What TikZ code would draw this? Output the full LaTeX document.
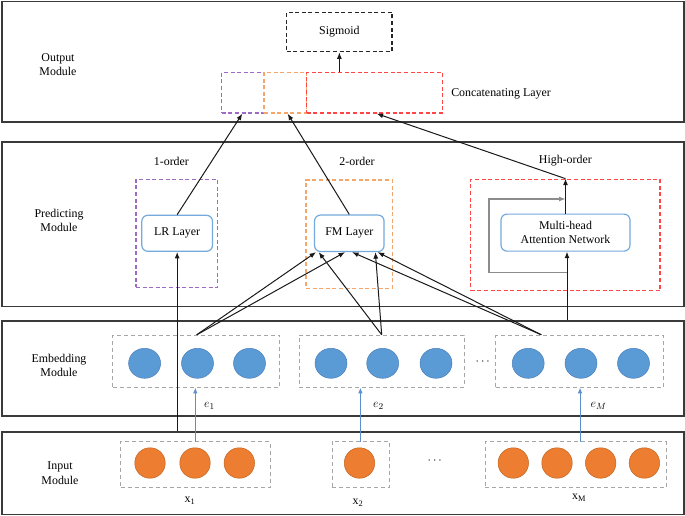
\documentclass[tikz,border=0pt]{standalone}
\usepackage{fontspec}
\setmainfont{Liberation Serif}
\usetikzlibrary{arrows.meta,shapes.geometric,calc}
\definecolor{modline}{HTML}{3A3A3A}
\definecolor{purp}{HTML}{9E6BC4}
\definecolor{orng}{HTML}{F5A66B}
\definecolor{redd}{HTML}{FF4545}
\definecolor{layblue}{HTML}{74AADD}
\definecolor{embfill}{HTML}{5B9BD5}
\definecolor{embline}{HTML}{4A7EBB}
\definecolor{inpfill}{HTML}{ED7D31}
\definecolor{inpline}{HTML}{C0651F}
\definecolor{gboxc}{HTML}{A6A6A6}
\definecolor{earrc}{HTML}{5A8FD0}
\definecolor{loopc}{HTML}{8C8C8C}
\begin{document}
\begin{tikzpicture}[x=1pt,y=-1pt,
  font=\fontsize{11.9}{14.4}\selectfont,
  modbox/.style={draw=modline,line width=1.5pt,minimum width=682pt,inner sep=0pt},
  modlabel/.style={align=center,inner sep=0pt},
  dbox/.style={line width=1.3pt,dash pattern=on 4pt off 2.6pt,inner sep=0pt},
  layer/.style={draw=layblue,line width=1.2pt,rounded corners=6pt,fill=white,align=center,inner sep=0pt},
  arr/.style={-{Latex[length=6.5pt,width=5pt]},line width=1pt,black!90},
  earr/.style={-{Latex[length=5.5pt,width=4.5pt]},line width=0.7pt,earrc},
  garr/.style={-{Latex[length=6.5pt,width=5pt]},line width=1.1pt,loopc},
  gbox/.style={draw=gboxc,line width=1pt,dash pattern=on 4pt off 3pt,inner sep=0pt},
  emb/.style={ellipse,fill=embfill,draw=embline,line width=0.5pt,minimum width=32pt,minimum height=30pt,inner sep=0pt},
  inp/.style={circle,fill=inpfill,draw=inpline,line width=0.5pt,minimum size=30.5pt,inner sep=0pt},
  lbl/.style={inner sep=0pt}
]
\useasboundingbox (0,0) rectangle (685,516);
% module boxes
\node[modbox,minimum height=120.5pt] (outmod) at (342.75,61.75) {};
\node[modbox,minimum height=164.5pt] (predmod) at (342.75,224.25) {};
\node[modbox,minimum height=95pt] (embmod) at (342.75,368.5) {};
\node[modbox,minimum height=82.5pt] (inmod) at (342.75,473.25) {};
\node[modlabel] (outlbl) at (58,64.5) {Output\\Module};
\node[modlabel] (predlbl) at (59,220.5) {Predicting\\Module};
\node[modlabel] (emblbl) at (59,365.5) {Embedding\\Module};
\node[modlabel] (inlbl) at (60,473) {Input\\Module};
% output module
\node[dbox,draw=black!85,minimum width=105.3pt,minimum height=39.4pt] (sig) at (339.35,32) {Sigmoid};
\node[dbox,draw=purp,minimum width=42.3pt,minimum height=40.5pt] (cp) at (242.85,92.75) {};
\node[dbox,draw=orng,minimum width=42.7pt,minimum height=40.5pt] (co) at (285.35,92.75) {};
\node[dbox,draw=redd,minimum width=136pt,minimum height=40.5pt] (cr) at (374.7,92.75) {};
\node[lbl] (catlbl) at (501,93.5) {Concatenating Layer};
% predicting module
\node[lbl] (o1) at (171.4,161) {1-order};
\node[lbl] (o2) at (357,161) {2-order};
\node[lbl] (o3) at (565.4,161) {High-order};
\node[dbox,draw=purp,minimum width=81.6pt,minimum height=108pt] (pb) at (176.8,233.3) {};
\node[dbox,draw=orng,minimum width=86.3pt,minimum height=108.3pt] (ob) at (349.15,234.15) {};
\node[dbox,draw=redd,minimum width=189.3pt,minimum height=111.4pt] (rb) at (565.35,235) {};
\node[layer,minimum width=70.7pt,minimum height=36pt] (lr) at (177.15,233.3) {LR Layer};
\node[layer,minimum width=69.5pt,minimum height=36.5pt] (fm) at (349.3,233.3) {FM Layer};
\node[layer,minimum width=129pt,minimum height=37pt] (mh) at (565.5,232.6) {Multi-head\\Attention Network};
% embedding module
\node[gbox,minimum width=167pt,minimum height=52pt] (eg1) at (196.2,361.3) {};
\node[gbox,minimum width=165pt,minimum height=52pt] (eg2) at (381.9,361.3) {};
\node[gbox,minimum width=167.4pt,minimum height=52pt] (eg3) at (579.5,361.3) {};
\node[emb] (e11) at (144.6,363.3) {};
\node[emb] (e12) at (197.5,363.3) {};
\node[emb] (e13) at (249.5,363.3) {};
\node[emb] (e21) at (331,363.3) {};
\node[emb] (e22) at (382.7,363.3) {};
\node[emb] (e23) at (436,363.3) {};
\node[emb] (e31) at (528.2,363.3) {};
\node[emb] (e32) at (581,363.3) {};
\node[emb] (e33) at (633.5,363.3) {};
\node[lbl] (edots) at (482.7,361.7) {\textbf{$\cdots$}};
\node[lbl,font=\fontsize{13}{15}\selectfont] (el1) at (209.5,406) {$e_1$};
\node[lbl,font=\fontsize{13}{15}\selectfont] (el2) at (378.5,406) {$e_2$};
\node[lbl,font=\fontsize{13}{15}\selectfont] (el3) at (598.5,406) {$e_M$};
% input module
\node[gbox,minimum width=149.3pt,minimum height=46pt] (ig1) at (195.35,464.7) {};
\node[gbox,minimum width=57.7pt,minimum height=46pt] (ig2) at (360.85,464.7) {};
\node[gbox,minimum width=181pt,minimum height=46pt] (ig3) at (575.5,464.7) {};
\node[inp] (i11) at (150,463) {};
\node[inp] (i12) at (195,463) {};
\node[inp] (i13) at (239.3,463) {};
\node[inp] (i21) at (359.5,463) {};
\node[inp] (i31) at (513.3,463) {};
\node[inp] (i32) at (557,463) {};
\node[inp] (i33) at (600.7,463) {};
\node[inp] (i34) at (644.4,463) {};
\node[lbl] (idots) at (434.7,461) {$\cdots$};
\node[lbl] (xl1) at (190,501) {x$_{\mathrm{1}}$};
\node[lbl] (xl2) at (358,503) {x$_{\mathrm{2}}$};
\node[lbl] (xl3) at (579,498) {x$_{\mathrm{M}}$};
% coordinates
\coordinate (t1) at ([xshift=0.5pt]eg1.north);
\coordinate (t2) at ([xshift=-0.2pt]eg2.north);
\coordinate (t3) at ([xshift=46pt]eg3.north west);
\coordinate (a1) at (195.3,441.7);
\coordinate (a2) at (360.4,441.7);
\coordinate (a3) at (580,441.7);
\coordinate (lb) at (566.7,272.7);
\coordinate (lt) at (489,199);
% connectors
\draw[earr] (a1) -- (a1 |- eg1.south);
\draw[earr] (a2) -- (a2 |- eg2.south);
\draw[earr] (a3) -- (a3 |- eg3.south);
\draw[arr] (lr.south |- inmod.north) -- (lr.south);
\draw[arr] (t1) -- ([xshift=2.1pt]fm.south west);
\draw[arr] (t1) -- ([xshift=31.1pt]fm.south west);
\draw[arr] (t2) -- ([xshift=4.7pt]fm.south west);
\draw[arr] (t2) -- ([xshift=61.4pt]fm.south west);
\draw[arr] (t3) -- ([xshift=38.1pt]fm.south west);
\draw[arr] (t3) -- ([xshift=63.7pt]fm.south west);
\draw[arr] ([xshift=1.5pt]mh.south |- embmod.north) -- ([xshift=1.5pt]mh.south);
\draw[garr] (lb) -| (lt) -- (lt -| mh.north);
\draw[arr] (mh.north) -- (mh.north |- rb.north);
\draw[arr] (mh.north |- rb.north) -- ([xshift=2pt]cr.south);
\draw[arr] (lr.north) -- ([xshift=-0.5pt]cp.south);
\draw[arr] (fm.north) -- ([xshift=2.3pt]co.south);
\draw[arr] (sig.south |- cr.north) -- (sig.south);
\end{tikzpicture}
\end{document}
